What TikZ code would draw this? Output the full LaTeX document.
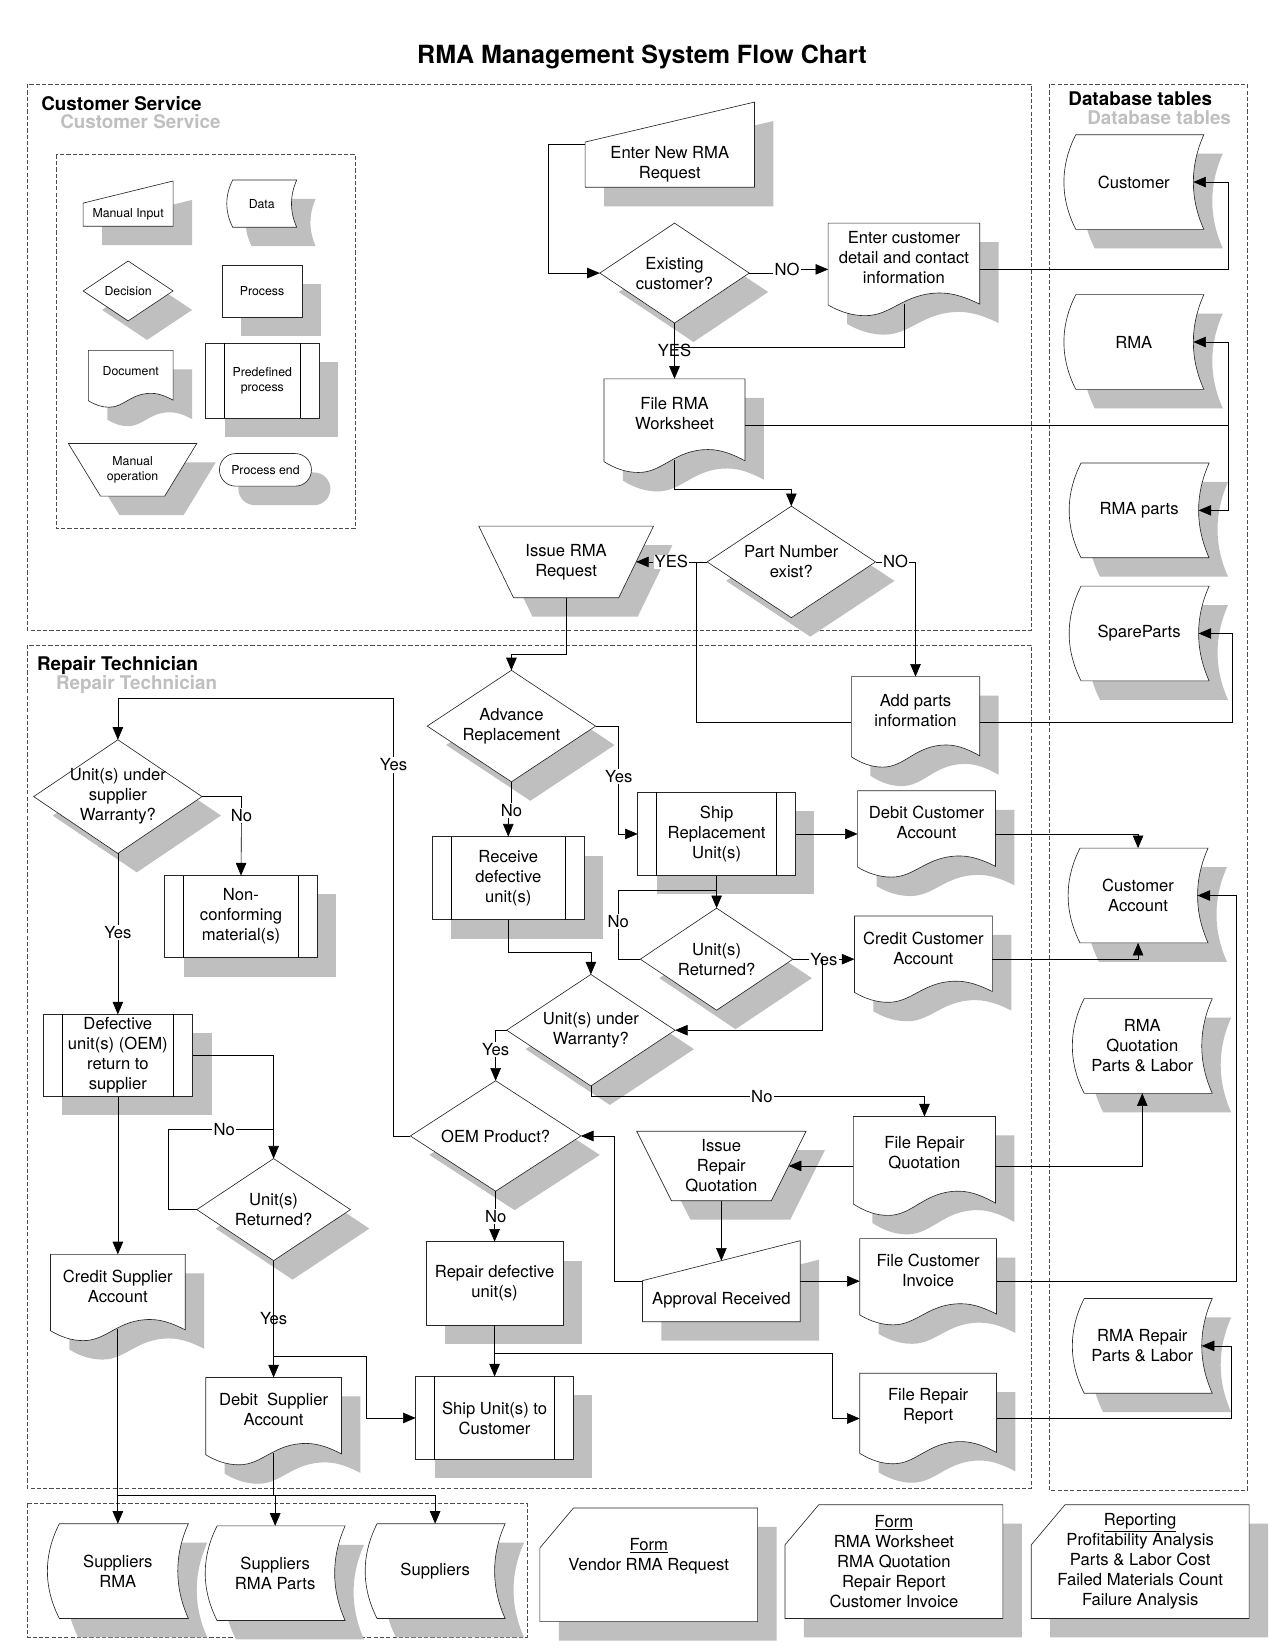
\documentclass[tikz,border=0pt]{standalone}
\usepackage{fontspec}
\setmainfont{TeX Gyre Heros}
\usetikzlibrary{arrows.meta}

% shadow first, then the white outline on top. args: x, y, path
\newcommand{\shadowed}[3]{
  \path[shadowfill, shift={(#1+18,#2+18)}] #3;
  \path[shapeline, shift={(#1,#2)}] #3;
}
% args: name, x, y, width, height, text
\newcommand{\flowdoc}[6]{
  \shadowed{#2}{#3}{(0,0) -- (#4,0) -- (#4,.875*#5)
    .. controls (.93*#4,.82*#5) and (.84*#4,.755*#5) .. (.74*#4,.755*#5)
    .. controls (.5*#4,.755*#5) and (.42*#4,#5) .. (.245*#4,#5)
    .. controls (.16*#4,#5) and (.08*#4,.96*#5) .. (0,.885*#5) -- cycle}
  \node[shapeframe, minimum width=#4pt, minimum height=#5pt] (#1) at (#2+#4/2,#3+#5/2) {};
  \node[shapetext] (#1-t) at (#2+#4/2,#3+.37*#5) {#6};
  \coordinate (#1-b) at (#2+#4/2,#3+.87*#5);
}
\newcommand{\flowdecision}[6]{
  \shadowed{#2}{#3}{(#4/2,0) -- (#4,#5/2) -- (#4/2,#5) -- (0,#5/2) -- cycle}
  \node[shapeframe, shapetext, minimum width=#4pt, minimum height=#5pt] (#1) at (#2+#4/2,#3+#5/2) {#6};
}
\newcommand{\flowprocess}[6]{
  \shadowed{#2}{#3}{(0,0) rectangle (#4,#5)}
  \node[shapeframe, shapetext, minimum width=#4pt, minimum height=#5pt] (#1) at (#2+#4/2,#3+#5/2) {#6};
}
\newcommand{\flowpredef}[6]{
  \shadowed{#2}{#3}{(0,0) rectangle (#4,#5)}
  \draw[shift={(#2,#3)}] (18,0) -- (18,#5) (#4-18,0) -- (#4-18,#5);
  \node[shapeframe, shapetext, minimum width=#4pt, minimum height=#5pt] (#1) at (#2+#4/2,#3+#5/2) {#6};
}
\newcommand{\flowdata}[6]{
  \shadowed{#2}{#3}{(.085*#4,0) -- (#4,0)
    .. controls (.9*#4,.33*#5) and (.9*#4,.67*#5) .. (#4,#5)
    -- (.085*#4,#5)
    .. controls (-.028*#4,.67*#5) and (-.028*#4,.33*#5) .. (.085*#4,0) -- cycle}
  \node[shapeframe, shapetext, minimum width=#4pt, minimum height=#5pt] (#1) at (#2+#4/2,#3+#5/2) {#6};
  \coordinate (#1-in) at (#2+.925*#4,#3+#5/2);
}
\newcommand{\flowcard}[6]{
  \shadowed{#2}{#3}{(32,0) -- (#4,0) -- (#4,#5) -- (0,#5) -- (0,38) -- cycle}
  \node[shapeframe, shapetext, minimum width=#4pt, minimum height=#5pt] (#1) at (#2+#4/2,#3+#5/2) {#6};
}
\newcommand{\flowend}[6]{
  \shadowed{#2}{#3}{[rounded corners=#5/2*1pt] (0,0) rectangle (#4,#5)}
  \node[shapeframe, shapetext, minimum width=#4pt, minimum height=#5pt] (#1) at (#2+#4/2,#3+#5/2) {#6};
}
% args: name, x, y, width, height, drop of the top left corner, text
\newcommand{\flowinput}[7]{
  \shadowed{#2}{#3}{(0,#6) -- (#4,0) -- (#4,#5) -- (0,#5) -- cycle}
  \node[shapeframe, minimum width=#4pt, minimum height=#5pt] (#1) at (#2+#4/2,#3+#5/2) {};
  \node[shapetext] (#1-t) at (#2+#4/2,#3+.73*#5) {#7};
  \coordinate (#1-top) at (#2+#4/2,#3+#6/2);
}
% args: name, x, y, width, height, inset of the bottom edge, text
\newcommand{\flowoper}[7]{
  \shadowed{#2}{#3}{(0,0) -- (#4,0) -- (#4-#6,#5) -- (#6,#5) -- cycle}
  \node[shapeframe, shapetext, minimum width=#4pt, minimum height=#5pt] (#1) at (#2+#4/2,#3+#5/2) {#7};
  \coordinate (#1-in) at (#2+#4-#6/2,#3+#5/2);
}

\begin{document}
\begin{tikzpicture}[x=1pt, y=-1pt, line width=0.6pt,
    >={Stealth[length=12pt,width=10pt,inset=0pt]}]
  % definition of the basic styles.
  \tikzstyle{shadowfill}=[fill=black!25, draw=none]
  \tikzstyle{shapeline}=[fill=white, draw=black!85]
  \tikzstyle{shapeframe}=[inner sep=0pt, outer sep=0pt]
  \tikzstyle{shapetext}=[align=center, inner sep=0pt, font=\fontsize{15.8}{19}\selectfont]
  \tikzstyle{dashbox}=[draw=black!70, line width=0.5pt, dash pattern=on 4pt off 2pt]
  \tikzstyle{heading}=[anchor=west, inner sep=0pt, font=\fontsize{17.9}{21}\selectfont\bfseries]
  \tikzstyle{headshade}=[heading, text=black!25]
  \tikzstyle{flowlabel}=[fill=white, inner sep=1pt, font=\fontsize{15.8}{19}\selectfont]
  \tikzstyle{plainlabel}=[inner sep=1pt, font=\fontsize{15.8}{19}\selectfont]

  \useasboundingbox (0,0) rectangle (1212,1568);

  \node[inner sep=0pt, font=\fontsize{23.8}{28}\selectfont\bfseries] (title) at (610,54) {RMA Management System Flow Chart};

  % The dashed lanes
  \draw[dashbox] (26,80) rectangle (980,599);
  \draw[dashbox] (26,613) rectangle (980,1414);
  \draw[dashbox] (997,80) rectangle (1185,1416);
  \draw[dashbox] (26,1429) rectangle (501,1556);
  \draw[dashbox] (53,147) rectangle (338,502);

  \node[heading] (csname) at (39,98) {Customer Service};
  \node[headshade] (csshade) at (57,116) {Customer Service};
  \node[heading] (rtname) at (35,632.5) {Repair Technician};
  \node[headshade] (rtshade) at (53,650.5) {Repair Technician};
  \node[heading] (dbname) at (1015,94) {Database tables};
  \node[headshade] (dbshade) at (1033,112) {Database tables};

  % The legend
  \begin{scope}[shapetext/.append style={font=\fontsize{11.7}{14.6}\selectfont}]
    \flowinput{keyinput}{79}{172}{85.5}{43}{21}{\raisebox{-2pt}{Manual Input}}
    \flowdata{keydata}{215.5}{171}{66.5}{45}{Data}
    \flowdecision{keydecision}{79}{248}{85.5}{57}{Decision}
    \flowprocess{keyprocess}{211}{252}{76}{49.5}{Process}
    \flowdoc{keydoc}{84}{333}{80.5}{54}{Document}
    \flowpredef{keypredef}{195.5}{326}{107.5}{71.5}{Predefined\\process}
    \flowoper{keyoper}{65}{421.5}{122}{50}{30.5}{Manual\\operation}
    \flowend{keyend}{208.5}{431}{87.5}{31}{Process end}
  \end{scope}

  % Customer service shapes
  \flowinput{enternew}{556}{97}{161}{81}{38}{Enter New RMA\\Request}
  \flowdecision{existing}{570}{212}{142}{95}{Existing\\customer?}
  \flowdoc{enterdetail}{787}{212}{144}{88}{Enter customer\\detail and contact\\information}
  \flowdoc{filerma}{574}{360}{134}{89}{File RMA\\Worksheet}
  \flowdecision{partnum}{672}{481}{160}{106}{Part Number\\exist?}
  \flowoper{issue}{455}{500}{166}{68}{33}{Issue RMA\\Request}

  % Repair technician shapes, right side
  \flowdoc{addparts}{809}{643}{122}{86}{Add parts\\information}
  \flowdecision{advance}{406}{637}{160}{106}{Advance\\Replacement}
  \flowpredef{ship}{606}{753}{150}{79}{Ship\\Replacement\\Unit(s)}
  \flowpredef{receive}{411}{795}{144}{79}{Receive\\defective\\unit(s)}
  \flowdoc{debit}{815}{751.5}{131}{82}{Debit Customer\\Account}
  \flowdoc{credit}{812}{870.5}{131}{82}{Credit Customer\\Account}
  \flowdecision{unitret}{608.5}{863}{145}{97}{Unit(s)\\Returned?}
  \flowdecision{warranty}{481.5}{926}{160}{106}{Unit(s) under\\Warranty?}
  \flowdecision{oem}{390}{1027}{162}{105}{OEM Product?}
  \flowdoc{filequote}{811}{1061}{135}{94}{File Repair\\Quotation}
  \flowoper{issueq}{605}{1075}{161}{66}{33}{Issue\\Repair\\Quotation}
  \flowinput{approval}{610.5}{1179}{150}{77}{38}{Approval Received}
  \flowdoc{invoice}{817}{1177}{130}{82}{File Customer\\Invoice}
  \flowdoc{report}{817}{1305}{130}{86}{File Repair\\Report}
  \flowprocess{repair}{405}{1180}{130}{79}{Repair defective\\unit(s)}
  \flowpredef{shipcust}{395}{1308}{150}{79}{Ship Unit(s) to\\Customer}

  % Repair technician shapes, left side
  \flowdecision{supw}{32}{703}{160}{108}{Unit(s) under\\supplier\\Warranty?}
  \flowpredef{nonconf}{156.5}{832}{145}{78}{Non-\\conforming\\material(s)}
  \flowpredef{defective}{41}{964}{142}{78}{Defective\\unit(s) (OEM)\\return to\\supplier}
  \flowdecision{ret2}{187}{1101}{146}{97}{Unit(s)\\Returned?}
  \flowdoc{creditsup}{48}{1192}{128}{82}{Credit Supplier\\Account}
  \flowdoc{debitsup}{195.5}{1309}{129}{83}{Debit\ \ Supplier\\Account}

  % Database tables
  \flowdata{customer}{1011}{128}{133}{90}{Customer}
  \flowdata{rma}{1011}{280}{133}{90}{RMA}
  \flowdata{rmaparts}{1016}{440}{133}{90}{RMA parts}
  \flowdata{spareparts}{1016}{557}{133}{90}{SpareParts}
  \flowdata{custacct}{1015}{806}{133}{90}{Customer\\Account}
  \flowdata{rmaq}{1019}{949}{133}{90}{RMA\\Quotation\\Parts \& Labor}
  \flowdata{rmarep}{1019}{1234}{133}{90}{RMA Repair\\Parts \& Labor}

  % Suppliers
  \flowdata{suprma}{45}{1448}{134}{90}{Suppliers\\RMA}
  \flowdata{supparts}{195}{1450}{133}{90}{Suppliers\\RMA Parts}
  \flowdata{sup}{347}{1448}{133}{90}{Suppliers}

  % Forms and reports
  \flowcard{vendorform}{513}{1433}{207}{108}{\underline{Form}\\Vendor RMA Request\\~}
  \flowcard{rmaform}{746}{1430}{207}{108}{\underline{Form}\\RMA Worksheet\\RMA Quotation\\Repair Report\\Customer Invoice}
  \flowcard{reporting}{980}{1430}{207}{108}{\underline{Reporting}\\Profitability Analysis\\Parts \& Labor Cost\\Failed Materials Count\\Failure Analysis}

  % Labels on the connectors
  \node[flowlabel] (existingno) at (748,256) {NO};
  \node[plainlabel] (existingyes) at (641,333) {YES};
  \node[flowlabel] (partyes) at (638,534) {YES};
  \node[flowlabel] (partno) at (851,534) {NO};
  \node[flowlabel] (advyes) at (588,738) {Yes};
  \node[flowlabel] (advno) at (486,770) {No};
  \node[flowlabel] (retno) at (587.5,876) {No};
  \node[flowlabel] (retyes) at (783,911.5) {Yes};
  \node[flowlabel] (warrantyyes) at (471,997) {Yes};
  \node[flowlabel] (warrantyno) at (724,1042) {No};
  \node[flowlabel] (oemyes) at (374,727) {Yes};
  \node[flowlabel] (oemno) at (471,1156) {No};
  \node[flowlabel] (supno) at (229.5,775) {No};
  \node[flowlabel] (supyes) at (112,886) {Yes};
  \node[flowlabel] (ret2no) at (213,1073) {No};
  \node[plainlabel] (ret2yes) at (260,1253) {Yes};

  % join points
  \coordinate (yesjoin) at (641,330);
  \coordinate (dbjoin) at (1167,404.5);
  \coordinate (partjoin) at (662,534);
  \coordinate (shipjoin) at (681,846);
  \coordinate (retjoin) at (781,911.5);
  \coordinate (oemtop) at (374,664);
  \coordinate (repjoin) at (470,1286);
  \coordinate (debjoin) at (260,1289);
  \coordinate (supbus) at (112,1421);

  % Connectors, customer service
  \draw[->] (enternew.west) -- ++(-35,0) |- (existing.west);
  \draw (existing.east) -- (existingno.west |- existing.east);
  \draw[->] (existingno) -- (enterdetail.west);
  \draw[->] (existing.south) -- (filerma.north);
  \draw (enterdetail-b) |- (yesjoin);
  \draw[->] (enterdetail.east) -- ++(236,0) |- (customer-in);
  \draw (filerma.east) -- (dbjoin);
  \draw[->] (dbjoin) |- (rma-in);
  \draw[->] (dbjoin) |- (rmaparts-in);
  \draw[->] (filerma-b) -- ++(0,28) -| (partnum.north);
  \draw (partnum.west) -- (partyes);
  \draw[->] (partyes) -- (issue-in);
  \draw (addparts.west) -| (partjoin);
  \draw (partnum.east) -- (partno);
  \draw[->] (partno) -| (addparts.north);
  \draw[->] (addparts.east) -- ++(240,0) |- (spareparts-in);
  \draw[->] (issue.south) -- ++(0,54) -| (advance.north);

  % Connectors, repair technician right side
  \draw (advance.east) -| (advyes);
  \draw[->] (advyes) |- (ship.west);
  \draw (advance.south) -- (advno);
  \draw[->] (advno.south -| receive.north) -- (receive.north);
  \draw[->] (ship.east) -- (ship.east -| debit.west);
  \draw[->] (debit.east) -| (custacct.north);
  \draw[->] (ship.south) -- (unitret.north);
  \draw (unitret.west) -| (retno);
  \draw (retno) |- (shipjoin);
  \draw (unitret.east) -- (retyes);
  \draw[->] (retyes) -- (retyes -| credit.west);
  \draw[->] (retjoin) |- (warranty.east);
  \draw[->] (credit.east) -| (custacct.south);
  \draw[->] (receive.south) -- ++(0,31) -| (warranty.north);
  \draw (warranty.west) -| (warrantyyes);
  \draw[->] (warrantyyes) -- (oem.north);
  \draw (warranty.south) |- (warrantyno);
  \draw[->] (warrantyno) -| (filequote.north);
  \draw[->] (filequote.west) -- (issueq-in);
  \draw[->] (filequote.east) -| (rmaq.south);
  \draw[->] (issueq.south) -- (approval-top);
  \draw[->] (approval.east) -- (approval.east -| invoice.west);
  \draw[->] (approval.west) -- ++(-27,0) |- (oem.east);
  \draw[->] (invoice.east) -- ++(228,0) |- (custacct-in);
  \draw (oem.west) -| (oemyes);
  \draw[->] (oemyes) |- (oemtop) -| (supw.north);
  \draw (oem.south) -- (oemno);
  \draw[->] (oemno.south -| repair.north) -- (repair.north);
  \draw[->] (repair.south) -- (shipcust.north);
  \draw[->] (repjoin) -- ++(321,0) |- (report.west);
  \draw[->] (report.east) -- ++(223,0) |- (rmarep-in);

  % Connectors, repair technician left side
  \draw (supw.east) -| (supno);
  \draw[->] (supno) -- (nonconf.north);
  \draw (supw.south) -- (supyes);
  \draw[->] (supyes) -- (defective.north);
  \draw[->] (defective.east) -| (ret2.north);
  \draw (ret2.west) -- ++(-27,0) |- (ret2no);
  \draw (ret2no) -- (ret2no -| ret2.north);
  \draw[->] (defective.south) -- (creditsup.north);
  \draw[->] (ret2.south) -- (debitsup.north);
  \draw[->] (debjoin) -- ++(88,0) |- (shipcust.west);
  \draw[->, line width=0.9pt] (creditsup-b) -- (suprma.north);
  \draw[->, line width=0.9pt] (supbus) -| (sup.north);
  \draw[->] (debitsup-b) -- (debitsup-b |- supbus) -| (supparts.north);
\end{tikzpicture}
\end{document}
